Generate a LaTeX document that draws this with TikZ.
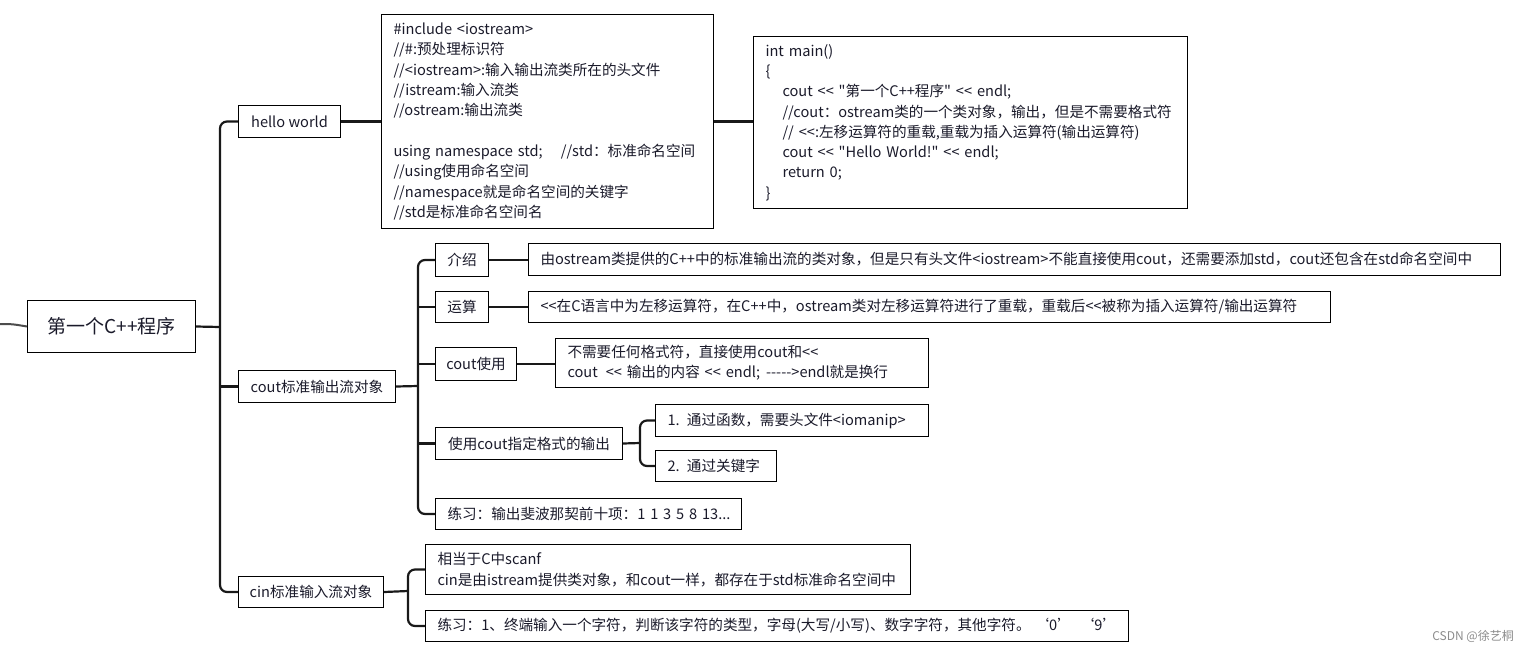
\documentclass[tikz,border=0pt]{standalone}
\usepackage{fontspec}
\setmainfont{Noto Sans CJK SC}[Ligatures=TeXOff]
\definecolor{ink}{HTML}{1A1A2A}
\tikzset{
  conn/.style={line width=2.2pt, black!90, rounded corners=7pt},
  box/.style={draw=black, line width=1pt, anchor=north west, inner xsep=12pt, inner ysep=0pt,
    align=left, text=ink, font=\fontsize{14.6}{20.3}\selectfont},
}
\begin{document}
\begin{tikzpicture}[x=1pt,y=-1pt]
\useasboundingbox (0,0) rectangle (1528,653);
% root
\node[box, align=center, font=\fontsize{19}{22}\selectfont, minimum width=168pt, minimum height=52pt] (root) at (27,300) {第一个C++程序};
\coordinate (in) at (0,324);
\draw[line width=2pt, black!70] (in) .. controls (12,324) .. (root.west);
% level 1
\node[box, align=center, inner xsep=0pt, minimum width=102pt, minimum height=32pt] (hello) at (238,105) {hello world};
\node[box, align=center, inner xsep=0pt, minimum width=157pt, minimum height=32pt] (cout) at (238,370) {cout标准输出流对象};
\node[box, align=center, inner xsep=0pt, minimum width=145pt, minimum height=31pt] (cin) at (238,576) {cin标准输入流对象};
\coordinate (t1) at (220,327);
\draw[conn] (root.east) -- (t1);
\draw[conn] (hello.west) -| (t1) |- (cin.west);
\draw[conn] (t1 |- cout.west) -- (cout.west);
% hello world code boxes
\node[box, text width=308pt, minimum height=214pt] (code1) at (381,14) {%
\#include <iostream>\\
//\#:预处理标识符\\
//<iostream>:输入输出流类所在的头文件\\
//istream:输入流类\\
//ostream:输出流类\\[20.3pt]
\mbox{using namespace std;\hspace{18pt}//std：标准命名空间}\\
//using使用命名空间\\
//namespace就是命名空间的关键字\\
//std是标准命名空间名};
\node[box, text width=410pt, minimum height=172pt] (code2) at (753,36) {%
int main()\\
\{\\
\hspace*{17pt}\mbox{cout << "第一个C++程序" << endl;}\\
\hspace*{17pt}\mbox{//cout：ostream类的一个类对象，输出，但是不需要格式符}\\
\hspace*{17pt}\mbox{// <<:左移运算符的重载,重载为插入运算符(输出运算符)}\\
\hspace*{17pt}\mbox{cout << "Hello World!" << endl;}\\
\hspace*{17pt}return 0;\\
\}};
\draw[conn] (hello.east) -- (hello.east -| code1.west);
\coordinate (h2) at (code1.east |- hello.east);
\draw[conn] (h2) -- (h2 -| code2.west);
% cout children
\node[box, align=center, inner xsep=0pt, minimum width=53pt, minimum height=33pt] (intro) at (435,243) {介绍};
\node[box, align=center, inner xsep=0pt, minimum width=53pt, minimum height=31pt] (calc) at (435,291) {运算};
\node[box, align=center, inner xsep=0pt, minimum width=81pt, minimum height=33pt] (use) at (435,347) {cout使用};
\node[box, align=center, inner xsep=0pt, minimum width=187pt, minimum height=32pt] (fmt) at (435,427) {使用cout指定格式的输出};
\node[box, text width=282pt, minimum height=31pt] (prac) at (435,498) {\mbox{练习：输出斐波那契前十项：1 1 3 5 8 13...}};
\coordinate (t2) at (418,386);
\draw[conn] (cout.east) -- (t2);
\draw[conn] (intro.west) -| (t2) |- (prac.west);
\draw[conn] (t2 |- calc.west) -- (calc.west);
\draw[conn] (t2 |- use.west) -- (use.west);
\draw[conn] (t2 |- fmt.west) -- (fmt.west);
% leaves
\node[box, text width=948pt, minimum height=32pt] (introtext) at (528,243) {\mbox{由ostream类提供的C++中的标准输出流的类对象，但是只有头文件<iostream>不能直接使用cout，还需要添加std，cout还包含在std命名空间中}};
\node[box, text width=778pt, minimum height=31pt] (calctext) at (528,291) {\mbox{<<在C语言中为左移运算符，在C++中，ostream类对左移运算符进行了重载，重载后<<被称为插入运算符/输出运算符}};
\node[box, text width=349pt, minimum height=49pt] (usetext) at (555,338) {\mbox{不需要任何格式符，直接使用cout和<<}\\\mbox{cout\hspace{8pt}<< 输出的内容 << endl;\hspace{6pt}----->endl就是换行}};
\draw[conn] (intro.east) -- (introtext.west |- intro.east);
\draw[conn] (calc.east) -- (calctext.west |- calc.east);
\draw[conn] (use.east) -- (usetext.west |- use.east);
\node[box, text width=249pt, minimum height=32pt] (f1) at (655,404) {\mbox{1. 通过函数，需要头文件<iomanip>}};
\node[box, text width=97pt, minimum height=31pt] (f2) at (655,450) {\mbox{2. 通过关键字}};
\coordinate (t3) at (640,443);
\draw[conn] (fmt.east) -- (t3);
\draw[conn] (f1.west) -| (t3) |- (f2.west);
% cin children
\node[box, text width=461pt, minimum height=50pt] (c1) at (425,544) {相当于C中scanf\\\mbox{cin是由istream提供类对象，和cout一样，都存在于std标准命名空间中}};
\node[box, text width=679pt, minimum height=31pt] (c2) at (425,610) {\mbox{练习：1、终端输入一个字符，判断该字符的类型，字母(大写/小写)、数字字符，其他字符。\hspace{4pt}‘0’\hspace{8pt}‘9’}};
\coordinate (t4) at (408,591);
\draw[conn] (cin.east) -- (t4);
\draw[conn] (c1.west) -| (t4) |- (c2.west);
% watermark
\node[anchor=east, text=black!45, font=\fontsize{12}{14}\selectfont, inner sep=0pt] (wm) at (1514,636) {CSDN @徐艺桐};
\end{tikzpicture}
\end{document}
